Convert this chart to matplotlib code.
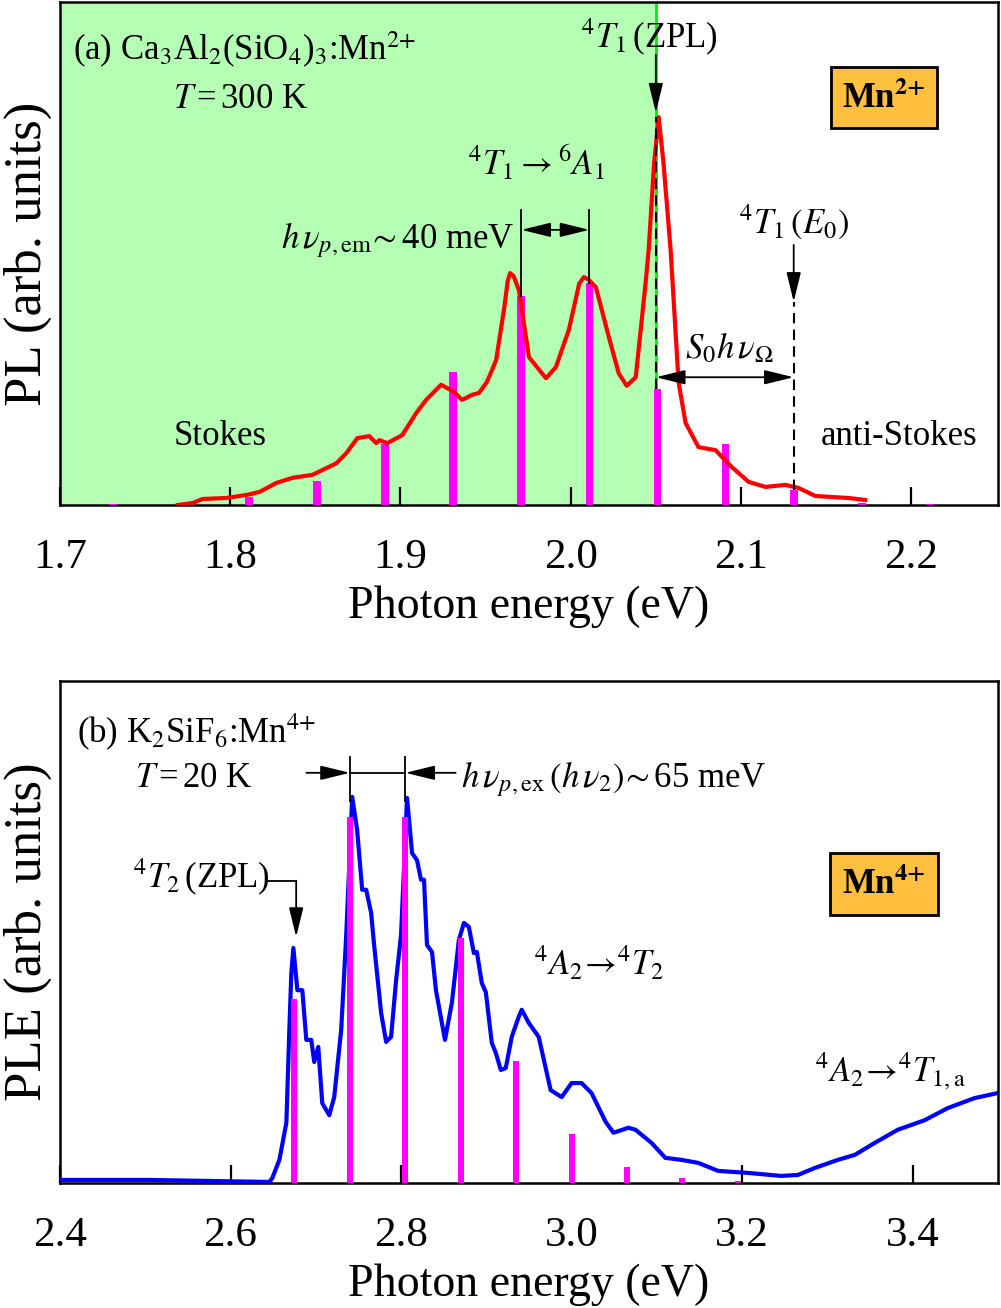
import matplotlib
matplotlib.use('Agg')
import matplotlib.pyplot as plt
from matplotlib.patches import Rectangle

plt.rcParams['font.family'] = ['Liberation Serif', 'DejaVu Serif']
plt.rcParams['mathtext.fontset'] = 'stix'

# (a) PL of Ca3Al2(SiO4)3:Mn2+, T = 300 K
pl_energy = [1.7692, 1.7780, 1.7838, 1.7979, 1.8096, 1.8172, 1.8272, 1.8366, 1.8483, 1.8624,
             1.8682, 1.8747, 1.8817, 1.8858, 1.8876, 1.8923, 1.9011, 1.9093, 1.9151, 1.9239,
             1.9315, 1.9362, 1.9421, 1.9462, 1.9509, 1.9562, 1.9608, 1.9630, 1.9644, 1.9665,
             1.9696, 1.9755, 1.9855, 1.9913, 1.9989, 2.0050, 2.0077, 2.0105, 2.0148, 2.0224,
             2.0282, 2.0329, 2.0382, 2.0440, 2.0458, 2.0490, 2.0517, 2.0545, 2.0587, 2.0634,
             2.0675, 2.0751, 2.0851, 2.0945, 2.1045, 2.1144, 2.1261, 2.1338, 2.1437, 2.1531,
             2.1631, 2.1730]
pl_intensity = [0.000, 0.004, 0.012, 0.014, 0.020, 0.026, 0.044, 0.054, 0.060, 0.083,
                0.103, 0.133, 0.137, 0.123, 0.129, 0.123, 0.139, 0.183, 0.209, 0.239,
                0.225, 0.209, 0.219, 0.223, 0.245, 0.288, 0.388, 0.445, 0.461, 0.455,
                0.427, 0.294, 0.252, 0.274, 0.348, 0.440, 0.453, 0.448, 0.433, 0.334,
                0.262, 0.237, 0.254, 0.441, 0.507, 0.680, 0.771, 0.680, 0.507, 0.243,
                0.163, 0.115, 0.109, 0.076, 0.046, 0.036, 0.040, 0.034, 0.018, 0.016,
                0.014, 0.010]
pl_bar_energy = [1.731, 1.771, 1.811, 1.851, 1.891, 1.931, 1.971, 2.011, 2.051, 2.091, 2.131, 2.171, 2.211]
pl_bar_height = [0.003, 0.004, 0.016, 0.048, 0.121, 0.264, 0.416, 0.441, 0.231, 0.121, 0.030, 0.004, 0.002]

# (b) PLE of K2SiF6:Mn4+, T = 20 K
ple_energy = [2.400, 2.505, 2.6456, 2.6491, 2.6573, 2.6655, 2.6690, 2.6713, 2.6737, 2.6784,
              2.6842, 2.6889, 2.6947, 2.6982, 2.7029, 2.7076, 2.7158, 2.7216, 2.7298, 2.7357,
              2.7427, 2.7485, 2.7544, 2.7591, 2.7649, 2.7684, 2.7766, 2.7825, 2.7883, 2.7942,
              2.8000, 2.8070, 2.8129, 2.8187, 2.8234, 2.8269, 2.8304, 2.8363, 2.8409, 2.8515,
              2.8596, 2.8678, 2.8737, 2.8795, 2.8854, 2.8889, 2.8947, 2.8994, 2.9064, 2.9111,
              2.9170, 2.9228, 2.9298, 2.9380, 2.9415, 2.9497, 2.9614, 2.9754, 2.9883, 3.0000,
              3.0117, 3.0234, 3.0398, 3.0491, 3.0667, 3.0749, 3.0936, 3.1099, 3.1287, 3.1485,
              3.1719, 3.2070, 3.2456, 3.2655, 3.2854, 3.3123, 3.3322, 3.3556, 3.3825, 3.4140,
              3.4409, 3.4725, 3.4994]
ple_intensity = [0.006, 0.006, 0.002, 0.010, 0.046, 0.120, 0.305, 0.418, 0.468, 0.384,
                 0.384, 0.285, 0.285, 0.241, 0.271, 0.159, 0.135, 0.171, 0.305, 0.494,
                 0.769, 0.703, 0.584, 0.584, 0.538, 0.474, 0.339, 0.281, 0.291, 0.404,
                 0.494, 0.767, 0.657, 0.643, 0.604, 0.604, 0.474, 0.460, 0.384, 0.285,
                 0.359, 0.484, 0.518, 0.510, 0.458, 0.460, 0.398, 0.380, 0.279, 0.259,
                 0.225, 0.229, 0.291, 0.331, 0.345, 0.319, 0.291, 0.185, 0.171, 0.199,
                 0.199, 0.179, 0.122, 0.100, 0.110, 0.106, 0.080, 0.050, 0.046, 0.040,
                 0.024, 0.020, 0.014, 0.016, 0.030, 0.046, 0.056, 0.080, 0.106, 0.125,
                 0.149, 0.169, 0.179]
ple_bar_energy = [2.675, 2.740, 2.805, 2.870, 2.935, 3.000, 3.065, 3.130, 3.195]
ple_bar_height = [0.367, 0.729, 0.729, 0.488, 0.243, 0.098, 0.032, 0.010, 0.003]

fig = plt.figure(figsize=(10.01, 13.08), dpi=100)
ax1 = fig.add_axes([0.0599, 0.6139, 0.9371, 0.3846])
ax2 = fig.add_axes([0.0599, 0.0956, 0.9371, 0.3838])

arrow = dict(arrowstyle='-|>,head_length=0.9,head_width=0.22', color='k', lw=1.3,
             mutation_scale=20, shrinkA=0, shrinkB=0)
darrow = dict(arrowstyle='<|-|>,head_length=0.9,head_width=0.22', color='k', lw=1.3,
              mutation_scale=20, shrinkA=0, shrinkB=0)
fs = 25

for ax in (ax1, ax2):
    ax.set_ylim(0, 1)
    ax.set_yticks([])
    ax.tick_params(axis='x', direction='in', length=13, width=1.6, labelsize=31, pad=24)
    for s in ax.spines.values():
        s.set_linewidth(1.8)

# ---- panel (a)
ax1.axvspan(1.7, 2.05, color='#b5ffb5', zorder=0, lw=0)
ax1.axvline(2.05, color='#00ee00', lw=2, zorder=1)
ax1.bar(pl_bar_energy, pl_bar_height, width=0.0045, color='#ff00ff', zorder=3)
ax1.plot(pl_energy, pl_intensity, color='red', lw=3, zorder=4)
ax1.set_xlim(1.7, 2.251)
ax1.set_xticks([1.7, 1.8, 1.9, 2.0, 2.1, 2.2])
ax1.set_xticklabels(['1.7', '1.8', '1.9', '2.0', '2.1', '2.2'])
ax1.set_xlabel('Photon energy (eV)', fontsize=33, labelpad=6)
ax1.set_ylabel('PL (arb. units)', fontsize=38, labelpad=6)

ax1.text(0.014, 0.885, r'(a) Ca$_3$Al$_2$(SiO$_4$)$_3$:Mn$^{2{+}}$', transform=ax1.transAxes,
         fontsize=fs, va='baseline')
ax1.text(0.120, 0.789, r'$T\,$=$\,$300 K', transform=ax1.transAxes, fontsize=fs, va='baseline')
ax1.text(2.046, 0.909, r'$^4T_1\,$(ZPL)', fontsize=fs, ha='center', va='baseline')
ax1.annotate('', xy=(2.05, 0.78), xytext=(2.05, 0.895), arrowprops=arrow, zorder=5)
ax1.plot([2.05, 2.05], [0.231, 0.771], color='k', lw=1.5, dashes=(5, 3), zorder=5)

ax1.text(1.98, 0.656, r'$^4T_1 \rightarrow {}^6A_1$', fontsize=fs, ha='center', va='baseline')
ax1.plot([1.971, 1.971], [0.416, 0.586], color='k', lw=1.3, zorder=5)
ax1.plot([2.011, 2.011], [0.441, 0.586], color='k', lw=1.3, zorder=5)
ax1.annotate('', xy=(2.011, 0.547), xytext=(1.971, 0.547), arrowprops=darrow, zorder=5)
ax1.text(1.967, 0.511, r'$h\,\nu_{p,\mathrm{em}}\!\sim$40 meV', fontsize=fs, ha='right', va='baseline')

ax1.text(2.131, 0.541, r'$^4T_1\,(E_0)$', fontsize=fs, ha='center', va='baseline')
ax1.annotate('', xy=(2.131, 0.404), xytext=(2.131, 0.517), arrowprops=arrow, zorder=5)
ax1.plot([2.131, 2.131], [0.03, 0.404], color='k', lw=1.5, dashes=(5, 3), zorder=5)
ax1.annotate('', xy=(2.131, 0.254), xytext=(2.05, 0.254), arrowprops=darrow, zorder=5)
ax1.text(2.093, 0.292, r'$S_0h\,\nu_\Omega$', fontsize=fs, ha='center', va='baseline')

ax1.text(0.171, 0.119, 'Stokes', transform=ax1.transAxes, fontsize=fs, ha='center', va='baseline')
ax1.text(0.895, 0.119, 'anti-Stokes', transform=ax1.transAxes, fontsize=fs, ha='center', va='baseline')

ax1.add_patch(Rectangle((0.822, 0.750), 0.113, 0.121, transform=ax1.transAxes,
                        facecolor='#ffc040', edgecolor='k', lw=2, zorder=6))
ax1.text(0.8785, 0.807, r'Mn$^{\mathbf{2{+}}}$', transform=ax1.transAxes, fontsize=fs,
         fontweight='bold', ha='center', va='center', zorder=7)

# ---- panel (b)
ax2.plot(ple_energy, ple_intensity, color='#0000ff', lw=3, zorder=3)
ax2.bar(ple_bar_energy, ple_bar_height, width=0.007, color='#ff00ff', zorder=4)
ax2.set_xlim(2.4, 3.5)
ax2.set_xticks([2.4, 2.6, 2.8, 3.0, 3.2, 3.4])
ax2.set_xticklabels(['2.4', '2.6', '2.8', '3.0', '3.2', '3.4'])
ax2.set_xlabel('Photon energy (eV)', fontsize=33, labelpad=6)
ax2.set_ylabel('PLE (arb. units)', fontsize=38, labelpad=6)

ax2.text(0.018, 0.878, r'(b) K$_2$SiF$_6$:Mn$^{4{+}}$', transform=ax2.transAxes, fontsize=fs, va='baseline')
ax2.text(0.080, 0.789, r'$T\,$=$\,$20 K', transform=ax2.transAxes, fontsize=fs, va='baseline')

ax2.plot([2.74, 2.74], [0.76, 0.849], color='k', lw=1.3, zorder=5)
ax2.plot([2.805, 2.805], [0.76, 0.849], color='k', lw=1.3, zorder=5)
ax2.plot([2.74, 2.805], [0.817, 0.817], color='k', lw=1.3, zorder=5)
ax2.annotate('', xy=(2.74, 0.817), xytext=(2.689, 0.817), arrowprops=arrow, zorder=5)
ax2.annotate('', xy=(2.805, 0.817), xytext=(2.864, 0.817), arrowprops=arrow, zorder=5)
ax2.text(2.870, 0.789, r'$h\,\nu_{p,\mathrm{ex}}\,(h\,\nu_2)\!\sim$65 meV', fontsize=fs, va='baseline')

ax2.text(0.078, 0.588, r'$^4T_2\,$(ZPL)', transform=ax2.transAxes, fontsize=fs, va='baseline')
ax2.plot([2.643, 2.677], [0.602, 0.602], color='k', lw=1.3)
ax2.annotate('', xy=(2.677, 0.49), xytext=(2.677, 0.602), arrowprops=arrow, zorder=5)

ax2.text(2.956, 0.414, r'$^4A_2\!\rightarrow\!{}^4T_2$', fontsize=fs, va='baseline')
ax2.text(3.285, 0.201, r'$^4A_2\!\rightarrow\!{}^4T_{1,\mathrm{a}}$', fontsize=fs, va='baseline')

ax2.add_patch(Rectangle((0.821, 0.534), 0.115, 0.123, transform=ax2.transAxes,
                        facecolor='#ffc040', edgecolor='k', lw=2, zorder=6))
ax2.text(0.8785, 0.593, r'Mn$^{\mathbf{4{+}}}$', transform=ax2.transAxes, fontsize=fs,
         fontweight='bold', ha='center', va='center', zorder=7)

fig.savefig('out.png', dpi=100)
